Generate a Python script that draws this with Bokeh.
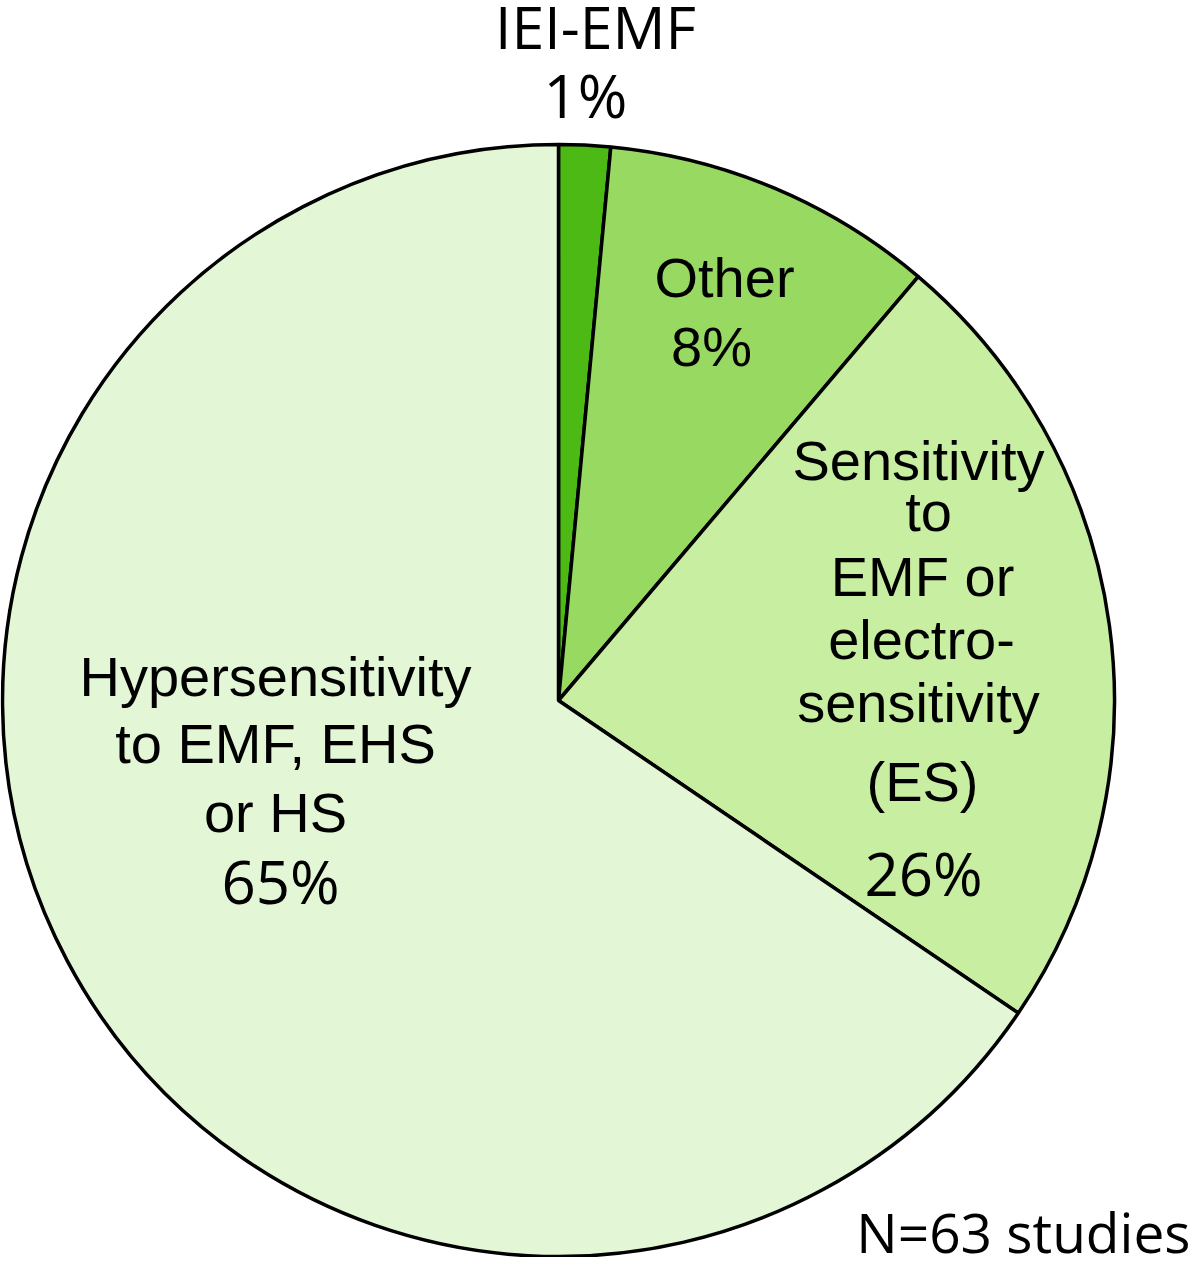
import numpy as np
from bokeh.plotting import figure
from bokeh.models import Range1d, ColumnDataSource
from bokeh.core.properties import value
from bokeh.embed import file_html
from bokeh.resources import INLINE

# ---- data ----
categories = ["IEI-EMF", "Other", "Sensitivity to EMF or electro-sensitivity (ES)",
              "Hypersensitivity to EMF, EHS or HS"]
shares = [1.5, 9.7, 23.3, 65.5]          # drawn slice sizes, percent
pct_labels = ["1%", "8%", "26%", "65%"]  # percentages printed on the chart
colors = ["#4cb914", "#98d962", "#c8eea1", "#e3f7d7"]
note = "N=63 studies"

# ---- geometry (screen pixels; y negative downwards) ----
W, H = 1192, 1257
cx, cy, r = 558, -700, 556

p = figure(width=W, height=H, output_backend="svg", toolbar_location=None,
           x_range=Range1d(0, W), y_range=Range1d(-H, 0),
           min_border=0, outline_line_color=None, background_fill_color="white")
p.axis.visible = False
p.grid.visible = False

frac = np.array(shares) / np.sum(shares)
cum = np.concatenate([[0], np.cumsum(frac)])
starts = np.pi / 2 - 2 * np.pi * cum[:-1]
ends = np.pi / 2 - 2 * np.pi * cum[1:]

src = ColumnDataSource(dict(start=starts, end=ends, color=colors, cat=categories))
p.wedge(x=cx, y=cy, radius=r, start_angle="start", end_angle="end",
        direction="clock", fill_color="color", line_color="black",
        line_width=3.5, source=src)

ARIAL = value("Liberation Sans")
HUM = value("Open Sans")

def put(lines, font, size, align="center"):
    off = 0.38 * size
    xs = [l[1] for l in lines]
    ys = [-(l[2] - off) for l in lines]
    txt = [l[0] for l in lines]
    p.text(x=xs, y=ys, text=txt, text_font=font, text_font_size=value(f"{size}px"),
           text_align=align, text_baseline="alphabetic", text_color="black")

# IEI-EMF label above the pie
put([(categories[0], 595, 48)], HUM, 59)
put([(pct_labels[0], 585, 117)], HUM, 60)

# Other
put([("Other", 724, 298), (pct_labels[1], 711, 367)], ARIAL, 56)

# Sensitivity (ES)
put([("Sensitivity", 918, 481), ("to", 928, 532), ("EMF or", 922, 597),
     ("electro-", 921, 660), ("sensitivity", 918, 723), ("(ES)", 922, 802)],
    ARIAL, 56)
put([(pct_labels[2], 923, 895)], HUM, 60)

# Hypersensitivity
put([("Hypersensitivity", 275, 697), ("to EMF, EHS", 275, 764), ("or HS", 275, 833)],
    ARIAL, 56)
put([(pct_labels[3], 280, 903)], HUM, 60)

# note
put([(note, 1190, 1252)], HUM, 55, align="right")

open("out.html", "w").write(file_html(p, INLINE))
